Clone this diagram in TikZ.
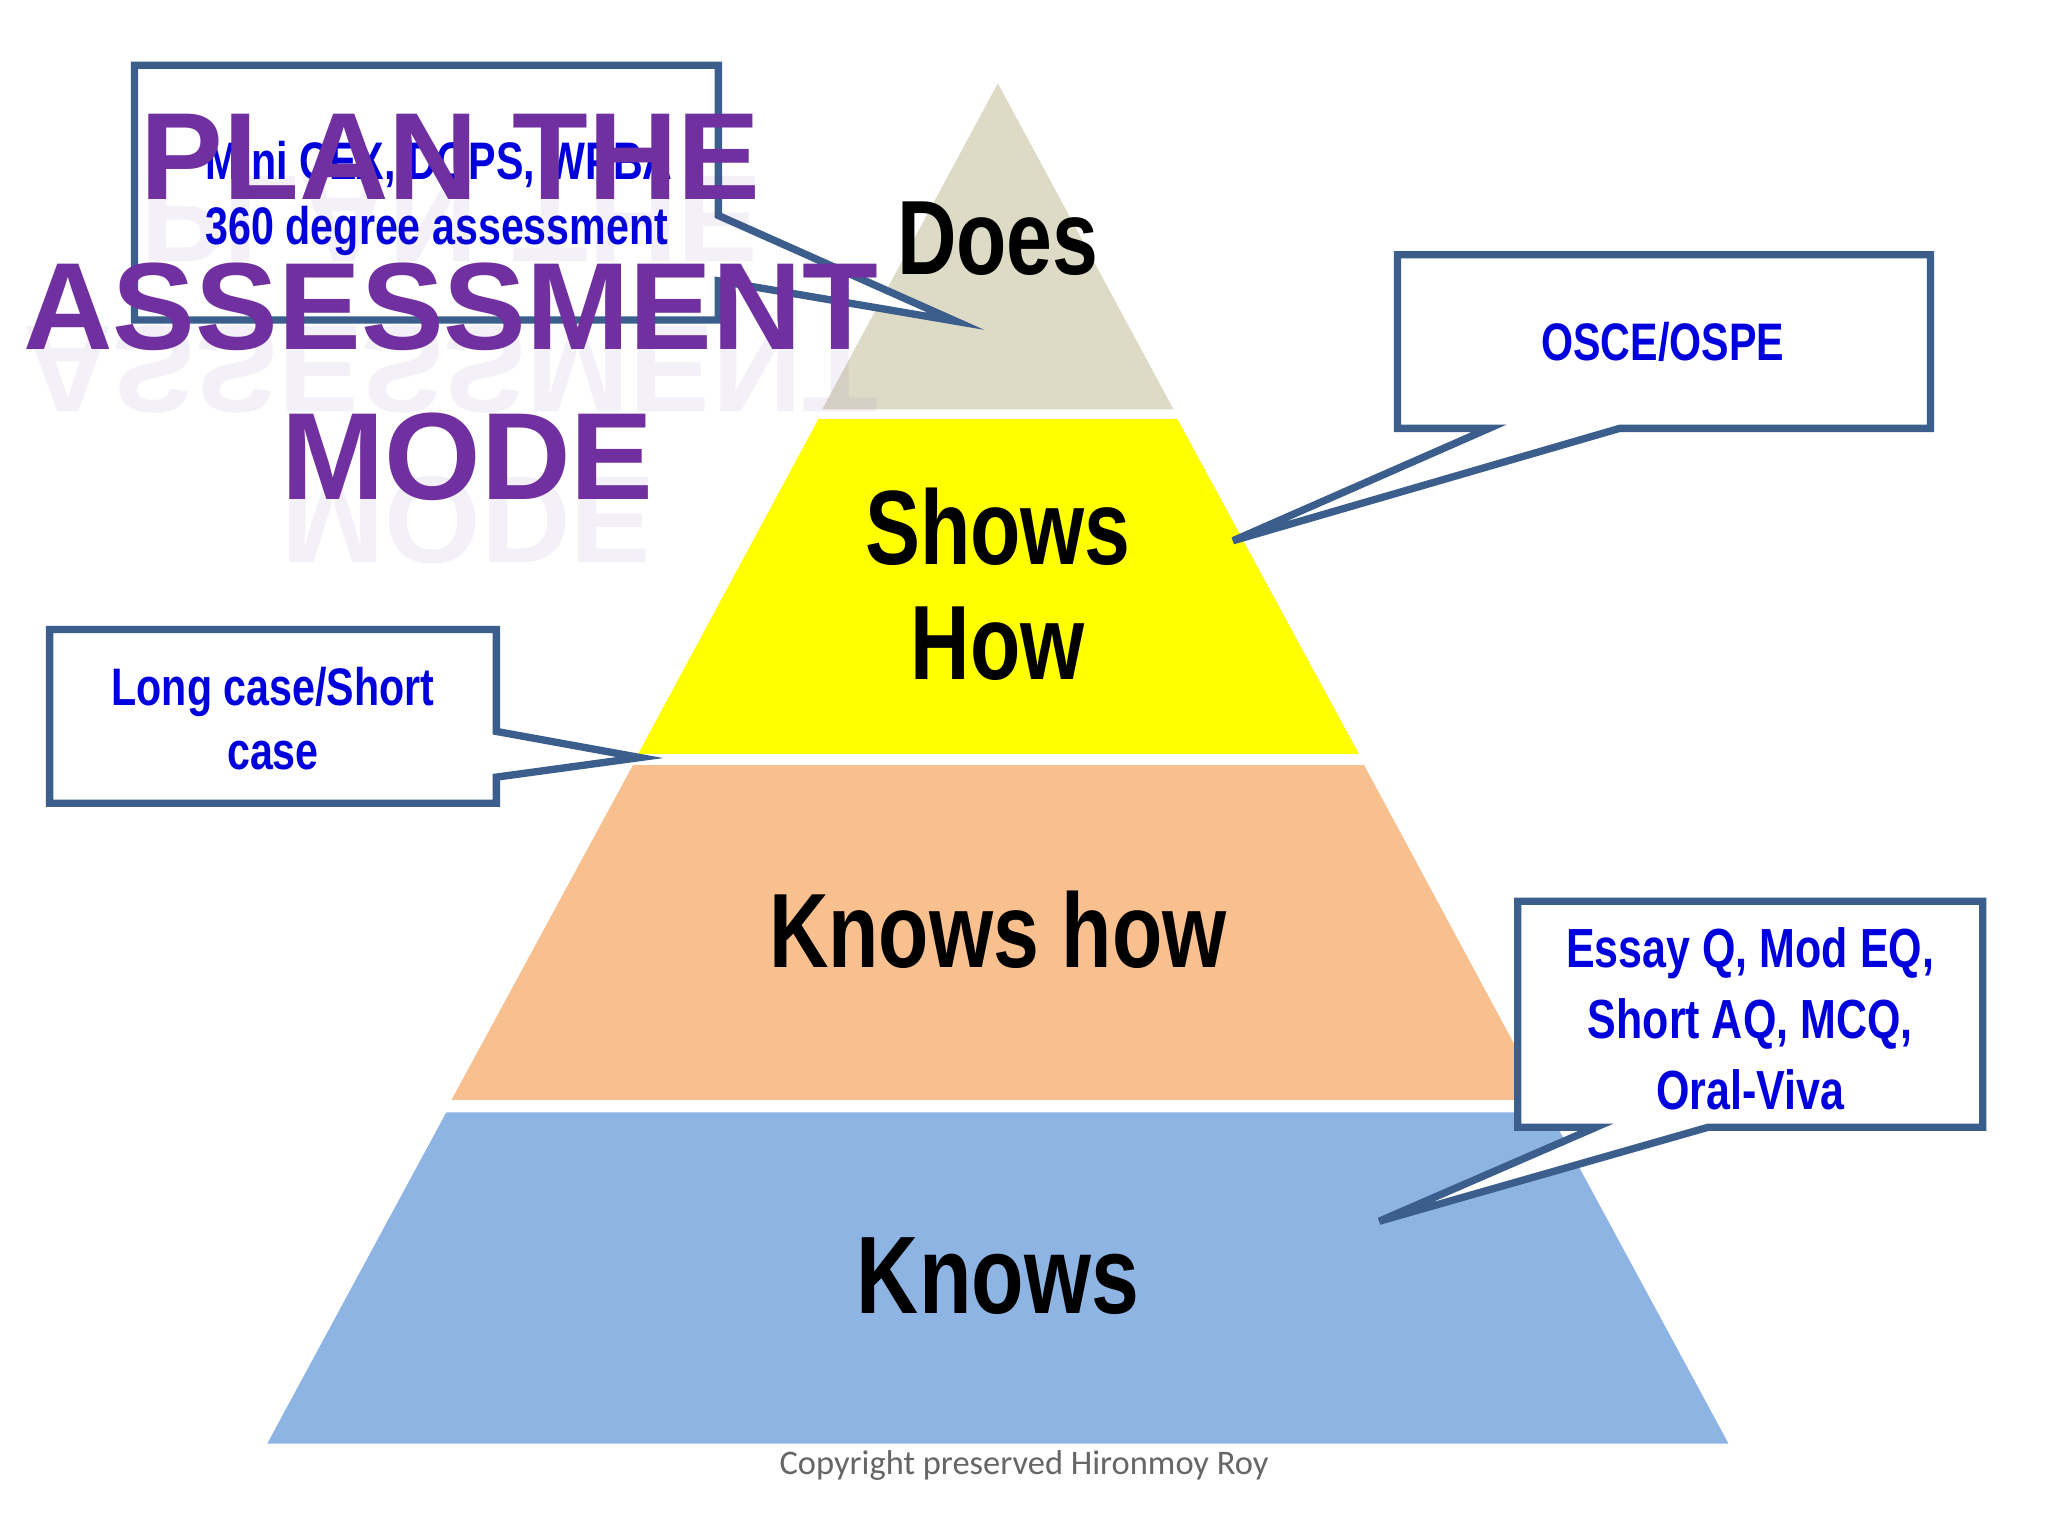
\documentclass[tikz,border=0pt]{standalone}
\usepackage{fontspec}
\setmainfont{Liberation Sans}
\newfontfamily\narrow[FakeStretch=0.78]{Liberation Sans}
\newfontfamily\cali{Carlito}
\begin{document}
\begin{tikzpicture}[x=0.01cm,y=-0.01cm,
  band/.style={draw=white,line width=1.5pt},
  lvl/.style={font=\narrow\bfseries\fontsize{23}{25}\selectfont,align=center,text=black},
  call/.style={draw={rgb,255:red,59;green,94;blue,140},line width=1.6pt,fill=white,line join=miter},
  ctext/.style={font=\narrow\bfseries\fontsize{11.5}{14}\selectfont,text={rgb,255:red,0;green,0;blue,220},align=center},
  ttl/.style={font=\bfseries\fontsize{27}{30}\selectfont,text={rgb,255:red,112;green,48;blue,160}}]
\useasboundingbox (0,0) rectangle (1568,1176);
\fill[white] (0,0) rectangle (1568,1176);
% pyramid
\fill[band,fill={rgb,255:red,221;green,219;blue,198}] (764,58) -- (903,316) -- (625,316) -- cycle;
\fill[band,fill={rgb,255:red,255;green,255;blue,0}] (625,318) -- (903,318) -- (1045,580) -- (484,580) -- cycle;
\fill[band,fill={rgb,255:red,249;green,192;blue,143}] (483,583) -- (1046,583) -- (1187,845) -- (341,845) -- cycle;
\fill[band,fill={rgb,255:red,142;green,180;blue,227}] (340,849) -- (1188,849) -- (1328,1108) -- (200,1108) -- cycle;
\node[lvl] (does) at (764,183) {Does};
\node[lvl] (shows) at (764,447) {Shows\\How};
\node[lvl] (knowshow) at (764,712) {Knows how};
\node[lvl,font=\narrow\bfseries\fontsize{24}{26}\selectfont] (knows) at (764,977) {Knows};
% callouts
\draw[call] (103,50) -- (550,50) -- (550,165) -- (732,246) -- (550,215) -- (550,245) -- (103,245) -- cycle;
\node[ctext,align=left,anchor=west] (c1) at (145,152) {Mini CEX, DOPS, WPBA\\360 degree assessment};
\draw[call] (1070,195) -- (1478,195) -- (1478,328) -- (1240,328) -- (944,414) -- (1140,328) -- (1070,328) -- cycle;
\node[ctext] (c2) at (1273,262) {OSCE/OSPE};
\draw[call] (38,482) -- (380,482) -- (380,560) -- (490,580) -- (380,595) -- (380,615) -- (38,615) -- cycle;
\node[ctext] (c3) at (209,550) {Long case/Short\\case};
\draw[call] (1162,690) -- (1518,690) -- (1518,863) -- (1308,863) -- (1056,935) -- (1222,863) -- (1162,863) -- cycle;
\node[ctext,font=\narrow\bfseries\fontsize{12}{15.5}\selectfont] (c4) at (1340,780) {Essay Q, Mod EQ,\\Short AQ, MCQ,\\Oral-Viva};
% title with faint reflection
\begin{scope}[opacity=0.07]
\node[ttl,yscale=-1] at (345,168) {PLAN THE};
\node[ttl,yscale=-1] at (345,283) {ASSESSMENT};
\node[ttl,yscale=-1] at (358,398) {MODE};
\end{scope}
\node[ttl] (t1) at (345,120) {PLAN THE};
\node[ttl] (t2) at (345,235) {ASSESSMENT};
\node[ttl] (t3) at (358,350) {MODE};
\node[font=\cali\fontsize{7.5}{9}\selectfont,text=black!60] (copy) at (784,1122) {Copyright preserved Hironmoy Roy};
\end{tikzpicture}
\end{document}
